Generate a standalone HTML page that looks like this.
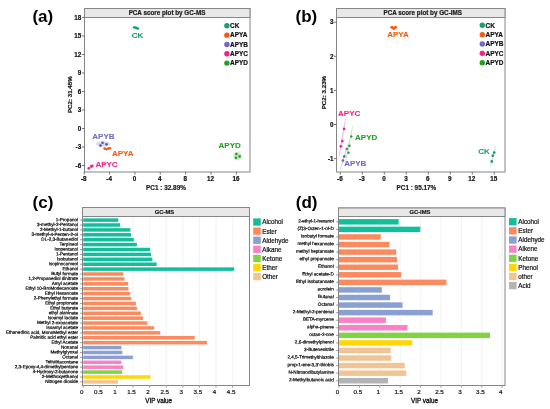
<!DOCTYPE html>
<html><head><meta charset="utf-8"><title>PCA and VIP plots</title>
<style>
html,body{margin:0;padding:0;background:#fff;}
body{width:550px;height:409px;overflow:hidden;}
svg{display:block;font-family:"Liberation Sans", sans-serif;will-change:transform;}
</style></head><body>
<svg width="550" height="409" viewBox="0 0 550 409">
<rect x="0" y="0" width="550" height="409" fill="#fff"/>
<rect x="84.5" y="8.5" width="165.5" height="163.5" fill="#fff" stroke="#868686" stroke-width="1"/>
<rect x="84.5" y="8.5" width="165.5" height="9.0" fill="#e8e8e8" stroke="#868686" stroke-width="1"/>
<text x="167.00" y="15.00" font-size="6.3" font-weight="bold" text-anchor="middle" fill="#1a1a1a" stroke="#1a1a1a" stroke-width="0.2">PCA score plot by GC-MS</text>
<line x1="84.18" y1="172.0" x2="84.18" y2="174.5" stroke="#5a5a5a" stroke-width="0.85"/>
<text x="83.78" y="181.40" font-size="6.3" font-weight="bold" text-anchor="middle" fill="#111" stroke="#111" stroke-width="0.2">-8</text>
<line x1="109.54" y1="172.0" x2="109.54" y2="174.5" stroke="#5a5a5a" stroke-width="0.85"/>
<text x="109.14" y="181.40" font-size="6.3" font-weight="bold" text-anchor="middle" fill="#111" stroke="#111" stroke-width="0.2">-4</text>
<line x1="134.90" y1="172.0" x2="134.90" y2="174.5" stroke="#5a5a5a" stroke-width="0.85"/>
<text x="134.50" y="181.40" font-size="6.3" font-weight="bold" text-anchor="middle" fill="#111" stroke="#111" stroke-width="0.2">0</text>
<line x1="160.26" y1="172.0" x2="160.26" y2="174.5" stroke="#5a5a5a" stroke-width="0.85"/>
<text x="159.86" y="181.40" font-size="6.3" font-weight="bold" text-anchor="middle" fill="#111" stroke="#111" stroke-width="0.2">4</text>
<line x1="185.62" y1="172.0" x2="185.62" y2="174.5" stroke="#5a5a5a" stroke-width="0.85"/>
<text x="185.22" y="181.40" font-size="6.3" font-weight="bold" text-anchor="middle" fill="#111" stroke="#111" stroke-width="0.2">8</text>
<line x1="210.98" y1="172.0" x2="210.98" y2="174.5" stroke="#5a5a5a" stroke-width="0.85"/>
<text x="210.58" y="181.40" font-size="6.3" font-weight="bold" text-anchor="middle" fill="#111" stroke="#111" stroke-width="0.2">12</text>
<line x1="236.34" y1="172.0" x2="236.34" y2="174.5" stroke="#5a5a5a" stroke-width="0.85"/>
<text x="235.94" y="181.40" font-size="6.3" font-weight="bold" text-anchor="middle" fill="#111" stroke="#111" stroke-width="0.2">16</text>
<line x1="82.0" y1="165.52" x2="84.5" y2="165.52" stroke="#5a5a5a" stroke-width="0.85"/>
<text x="81.20" y="167.77" font-size="6.3" font-weight="bold" text-anchor="end" fill="#111" stroke="#111" stroke-width="0.2">-6</text>
<line x1="82.0" y1="147.01" x2="84.5" y2="147.01" stroke="#5a5a5a" stroke-width="0.85"/>
<text x="81.20" y="149.26" font-size="6.3" font-weight="bold" text-anchor="end" fill="#111" stroke="#111" stroke-width="0.2">-3</text>
<line x1="82.0" y1="128.50" x2="84.5" y2="128.50" stroke="#5a5a5a" stroke-width="0.85"/>
<text x="81.20" y="130.75" font-size="6.3" font-weight="bold" text-anchor="end" fill="#111" stroke="#111" stroke-width="0.2">0</text>
<line x1="82.0" y1="109.99" x2="84.5" y2="109.99" stroke="#5a5a5a" stroke-width="0.85"/>
<text x="81.20" y="112.24" font-size="6.3" font-weight="bold" text-anchor="end" fill="#111" stroke="#111" stroke-width="0.2">3</text>
<line x1="82.0" y1="91.48" x2="84.5" y2="91.48" stroke="#5a5a5a" stroke-width="0.85"/>
<text x="81.20" y="93.73" font-size="6.3" font-weight="bold" text-anchor="end" fill="#111" stroke="#111" stroke-width="0.2">6</text>
<line x1="82.0" y1="72.97" x2="84.5" y2="72.97" stroke="#5a5a5a" stroke-width="0.85"/>
<text x="81.20" y="75.22" font-size="6.3" font-weight="bold" text-anchor="end" fill="#111" stroke="#111" stroke-width="0.2">9</text>
<line x1="82.0" y1="54.46" x2="84.5" y2="54.46" stroke="#5a5a5a" stroke-width="0.85"/>
<text x="81.20" y="56.71" font-size="6.3" font-weight="bold" text-anchor="end" fill="#111" stroke="#111" stroke-width="0.2">12</text>
<line x1="82.0" y1="35.95" x2="84.5" y2="35.95" stroke="#5a5a5a" stroke-width="0.85"/>
<text x="81.20" y="38.20" font-size="6.3" font-weight="bold" text-anchor="end" fill="#111" stroke="#111" stroke-width="0.2">15</text>
<line x1="82.0" y1="17.44" x2="84.5" y2="17.44" stroke="#5a5a5a" stroke-width="0.85"/>
<text x="81.20" y="19.69" font-size="6.3" font-weight="bold" text-anchor="end" fill="#111" stroke="#111" stroke-width="0.2">18</text>
<text x="166.00" y="190.40" font-size="6.4" font-weight="bold" text-anchor="middle" fill="#222" stroke="#222" stroke-width="0.2">PC1 : 32.89%</text>
<text x="0" y="0" font-size="6.2" font-weight="bold" text-anchor="middle" fill="#111" stroke="#111" stroke-width="0.2" transform="translate(71.8,94.7) rotate(-90)">PC2: 31.45%</text>
<circle cx="226.9" cy="25.80" r="2.7" fill="#1b9e77"/>
<text x="230.10" y="28.10" font-size="6.45" font-weight="bold" text-anchor="start" fill="#111" stroke="#111" stroke-width="0.2">CK</text>
<circle cx="226.9" cy="35.13" r="2.7" fill="#f55a0c"/>
<text x="230.10" y="37.43" font-size="6.45" font-weight="bold" text-anchor="start" fill="#111" stroke="#111" stroke-width="0.2">APYA</text>
<circle cx="226.9" cy="44.46" r="2.7" fill="#706ac2"/>
<text x="230.10" y="46.76" font-size="6.45" font-weight="bold" text-anchor="start" fill="#111" stroke="#111" stroke-width="0.2">APYB</text>
<circle cx="226.9" cy="53.79" r="2.7" fill="#f22283"/>
<text x="230.10" y="56.09" font-size="6.45" font-weight="bold" text-anchor="start" fill="#111" stroke="#111" stroke-width="0.2">APYC</text>
<circle cx="226.9" cy="63.12" r="2.7" fill="#22a022"/>
<text x="230.10" y="65.42" font-size="6.45" font-weight="bold" text-anchor="start" fill="#111" stroke="#111" stroke-width="0.2">APYD</text>
<circle cx="134.3" cy="27.3" r="1.4" fill="#1b9e77"/>
<circle cx="136.2" cy="27.9" r="1.4" fill="#1b9e77"/>
<circle cx="137.8" cy="28.6" r="1.4" fill="#1b9e77"/>
<text x="137.60" y="37.90" font-size="8" font-weight="bold" text-anchor="middle" fill="#1b9e77" stroke="#1b9e77" stroke-width="0.08">CK</text>
<ellipse cx="103.1" cy="144.0" rx="7.3" ry="2.75" fill="#dcdbf0"/>
<circle cx="102.5" cy="142.8" r="1.4" fill="#625cb8"/>
<circle cx="100.5" cy="145.6" r="1.4" fill="#625cb8"/>
<circle cx="106.4" cy="144.3" r="1.4" fill="#625cb8"/>
<text x="103.40" y="138.70" font-size="8" font-weight="bold" text-anchor="middle" fill="#706ac2" stroke="#706ac2" stroke-width="0.08">APYB</text>
<circle cx="104.6" cy="148.6" r="1.3" fill="#f55a0c"/>
<circle cx="106.6" cy="149.2" r="1.3" fill="#f55a0c"/>
<circle cx="108.3" cy="148.5" r="1.3" fill="#f55a0c"/>
<circle cx="109.9" cy="148.3" r="1.3" fill="#f55a0c"/>
<text x="122.70" y="155.60" font-size="8" font-weight="bold" text-anchor="middle" fill="#f55a0c" stroke="#f55a0c" stroke-width="0.08">APYA</text>
<circle cx="88.8" cy="168.3" r="1.4" fill="#f22283"/>
<circle cx="91.2" cy="166.5" r="1.4" fill="#f22283"/>
<circle cx="92.3" cy="166.0" r="1.4" fill="#f22283"/>
<text x="106.50" y="167.30" font-size="8" font-weight="bold" text-anchor="middle" fill="#f22283" stroke="#f22283" stroke-width="0.08">APYC</text>
<ellipse cx="237.4" cy="156.05" rx="4.35" ry="4.15" fill="#cfeccb"/>
<circle cx="236.4" cy="154.0" r="1.35" fill="#22a022"/>
<circle cx="239.6" cy="156.4" r="1.35" fill="#22a022"/>
<circle cx="236.0" cy="157.8" r="1.35" fill="#22a022"/>
<text x="229.70" y="147.90" font-size="8" font-weight="bold" text-anchor="middle" fill="#22a022" stroke="#22a022" stroke-width="0.08">APYD</text>
<rect x="336.5" y="8.5" width="168.5" height="163.5" fill="#fff" stroke="#868686" stroke-width="1"/>
<rect x="336.5" y="8.5" width="168.5" height="9.0" fill="#e8e8e8" stroke="#868686" stroke-width="1"/>
<text x="422.70" y="15.00" font-size="6.3" font-weight="bold" text-anchor="middle" fill="#1a1a1a" stroke="#1a1a1a" stroke-width="0.2">PCA score plot by GC-IMS</text>
<line x1="340.32" y1="172.0" x2="340.32" y2="174.5" stroke="#5a5a5a" stroke-width="0.85"/>
<text x="339.92" y="181.40" font-size="6.3" font-weight="bold" text-anchor="middle" fill="#111" stroke="#111" stroke-width="0.2">-6</text>
<line x1="362.31" y1="172.0" x2="362.31" y2="174.5" stroke="#5a5a5a" stroke-width="0.85"/>
<text x="361.91" y="181.40" font-size="6.3" font-weight="bold" text-anchor="middle" fill="#111" stroke="#111" stroke-width="0.2">-3</text>
<line x1="384.30" y1="172.0" x2="384.30" y2="174.5" stroke="#5a5a5a" stroke-width="0.85"/>
<text x="383.90" y="181.40" font-size="6.3" font-weight="bold" text-anchor="middle" fill="#111" stroke="#111" stroke-width="0.2">0</text>
<line x1="406.29" y1="172.0" x2="406.29" y2="174.5" stroke="#5a5a5a" stroke-width="0.85"/>
<text x="405.89" y="181.40" font-size="6.3" font-weight="bold" text-anchor="middle" fill="#111" stroke="#111" stroke-width="0.2">3</text>
<line x1="428.28" y1="172.0" x2="428.28" y2="174.5" stroke="#5a5a5a" stroke-width="0.85"/>
<text x="427.88" y="181.40" font-size="6.3" font-weight="bold" text-anchor="middle" fill="#111" stroke="#111" stroke-width="0.2">6</text>
<line x1="450.27" y1="172.0" x2="450.27" y2="174.5" stroke="#5a5a5a" stroke-width="0.85"/>
<text x="449.87" y="181.40" font-size="6.3" font-weight="bold" text-anchor="middle" fill="#111" stroke="#111" stroke-width="0.2">9</text>
<line x1="472.26" y1="172.0" x2="472.26" y2="174.5" stroke="#5a5a5a" stroke-width="0.85"/>
<text x="471.86" y="181.40" font-size="6.3" font-weight="bold" text-anchor="middle" fill="#111" stroke="#111" stroke-width="0.2">12</text>
<line x1="494.25" y1="172.0" x2="494.25" y2="174.5" stroke="#5a5a5a" stroke-width="0.85"/>
<text x="493.85" y="181.40" font-size="6.3" font-weight="bold" text-anchor="middle" fill="#111" stroke="#111" stroke-width="0.2">15</text>
<line x1="334.0" y1="158.60" x2="336.5" y2="158.60" stroke="#5a5a5a" stroke-width="0.85"/>
<text x="333.50" y="160.85" font-size="6.3" font-weight="bold" text-anchor="end" fill="#111" stroke="#111" stroke-width="0.2">-1</text>
<line x1="334.0" y1="124.50" x2="336.5" y2="124.50" stroke="#5a5a5a" stroke-width="0.85"/>
<text x="333.50" y="126.75" font-size="6.3" font-weight="bold" text-anchor="end" fill="#111" stroke="#111" stroke-width="0.2">0</text>
<line x1="334.0" y1="90.40" x2="336.5" y2="90.40" stroke="#5a5a5a" stroke-width="0.85"/>
<text x="333.50" y="92.65" font-size="6.3" font-weight="bold" text-anchor="end" fill="#111" stroke="#111" stroke-width="0.2">1</text>
<line x1="334.0" y1="56.30" x2="336.5" y2="56.30" stroke="#5a5a5a" stroke-width="0.85"/>
<text x="333.50" y="58.55" font-size="6.3" font-weight="bold" text-anchor="end" fill="#111" stroke="#111" stroke-width="0.2">2</text>
<line x1="334.0" y1="22.20" x2="336.5" y2="22.20" stroke="#5a5a5a" stroke-width="0.85"/>
<text x="333.50" y="24.45" font-size="6.3" font-weight="bold" text-anchor="end" fill="#111" stroke="#111" stroke-width="0.2">3</text>
<text x="416.40" y="190.40" font-size="6.4" font-weight="bold" text-anchor="middle" fill="#222" stroke="#222" stroke-width="0.2">PC1 : 95.17%</text>
<text x="0" y="0" font-size="6.2" font-weight="bold" text-anchor="middle" fill="#111" stroke="#111" stroke-width="0.2" transform="translate(325.8,92.6) rotate(-90)">PC2: 3.23%</text>
<circle cx="482.3" cy="25.30" r="2.7" fill="#1b9e77"/>
<text x="485.60" y="27.60" font-size="6.45" font-weight="bold" text-anchor="start" fill="#111" stroke="#111" stroke-width="0.2">CK</text>
<circle cx="482.3" cy="34.65" r="2.7" fill="#f55a0c"/>
<text x="485.60" y="36.95" font-size="6.45" font-weight="bold" text-anchor="start" fill="#111" stroke="#111" stroke-width="0.2">APYA</text>
<circle cx="482.3" cy="44.00" r="2.7" fill="#706ac2"/>
<text x="485.60" y="46.30" font-size="6.45" font-weight="bold" text-anchor="start" fill="#111" stroke="#111" stroke-width="0.2">APYB</text>
<circle cx="482.3" cy="53.35" r="2.7" fill="#f22283"/>
<text x="485.60" y="55.65" font-size="6.45" font-weight="bold" text-anchor="start" fill="#111" stroke="#111" stroke-width="0.2">APYC</text>
<circle cx="482.3" cy="62.70" r="2.7" fill="#22a022"/>
<text x="485.60" y="65.00" font-size="6.45" font-weight="bold" text-anchor="start" fill="#111" stroke="#111" stroke-width="0.2">APYD</text>
<circle cx="391.9" cy="27.3" r="1.55" fill="#f55a0c"/>
<circle cx="395.5" cy="27.2" r="1.55" fill="#f55a0c"/>
<circle cx="393.7" cy="28.5" r="1.55" fill="#f55a0c"/>
<text x="398.00" y="37.40" font-size="8" font-weight="bold" text-anchor="middle" fill="#f55a0c" stroke="#f55a0c" stroke-width="0.08">APYA</text>
<ellipse cx="342.25" cy="137.90" rx="21.82" ry="0.65" fill="#f7bcd9" transform="rotate(99.89 342.25 137.90)"/>
<ellipse cx="349.00" cy="144.85" rx="20.54" ry="0.65" fill="#c6e6c0" transform="rotate(101.23 349.00 144.85)"/>
<ellipse cx="344.35" cy="156.25" rx="14.93" ry="0.65" fill="#d3d1ea" transform="rotate(107.34 344.35 156.25)"/>
<ellipse cx="492.95" cy="156.50" rx="11.39" ry="0.65" fill="#bde5d7" transform="rotate(105.01 492.95 156.50)"/>
<circle cx="344.1" cy="128.9" r="1.35" fill="#f22283"/>
<circle cx="342.3" cy="141.1" r="1.35" fill="#f22283"/>
<circle cx="340.9" cy="146.3" r="1.35" fill="#f22283"/>
<circle cx="351.3" cy="136.5" r="1.2" fill="#22a022"/>
<circle cx="349.5" cy="145.8" r="1.2" fill="#22a022"/>
<circle cx="348.5" cy="152.8" r="1.2" fill="#22a022"/>
<circle cx="346.8" cy="149" r="1.35" fill="#706ac2"/>
<circle cx="344.3" cy="156.4" r="1.35" fill="#706ac2"/>
<circle cx="342.9" cy="160.6" r="1.35" fill="#706ac2"/>
<circle cx="494.2" cy="152.6" r="1.4" fill="#1b9e77"/>
<circle cx="492.8" cy="155.7" r="1.4" fill="#1b9e77"/>
<circle cx="491.8" cy="161.5" r="1.4" fill="#1b9e77"/>
<text x="349.20" y="116.10" font-size="8" font-weight="bold" text-anchor="middle" fill="#f22283" stroke="#f22283" stroke-width="0.08">APYC</text>
<text x="366.20" y="140.20" font-size="8" font-weight="bold" text-anchor="middle" fill="#22a022" stroke="#22a022" stroke-width="0.08">APYD</text>
<text x="355.30" y="166.40" font-size="8" font-weight="bold" text-anchor="middle" fill="#706ac2" stroke="#706ac2" stroke-width="0.08">APYB</text>
<text x="484.00" y="154.40" font-size="8" font-weight="bold" text-anchor="middle" fill="#1b9e77" stroke="#1b9e77" stroke-width="0.08">CK</text>
<rect x="82.5" y="207.5" width="167.0" height="178.0" fill="#fff" stroke="#868686" stroke-width="1"/>
<line x1="99.80" y1="216.5" x2="99.80" y2="385.5" stroke="#efefef" stroke-width="0.8"/>
<line x1="116.40" y1="216.5" x2="116.40" y2="385.5" stroke="#efefef" stroke-width="0.8"/>
<line x1="133.00" y1="216.5" x2="133.00" y2="385.5" stroke="#efefef" stroke-width="0.8"/>
<line x1="149.60" y1="216.5" x2="149.60" y2="385.5" stroke="#efefef" stroke-width="0.8"/>
<line x1="166.20" y1="216.5" x2="166.20" y2="385.5" stroke="#efefef" stroke-width="0.8"/>
<line x1="182.80" y1="216.5" x2="182.80" y2="385.5" stroke="#efefef" stroke-width="0.8"/>
<line x1="199.40" y1="216.5" x2="199.40" y2="385.5" stroke="#efefef" stroke-width="0.8"/>
<line x1="216.00" y1="216.5" x2="216.00" y2="385.5" stroke="#efefef" stroke-width="0.8"/>
<line x1="232.60" y1="216.5" x2="232.60" y2="385.5" stroke="#efefef" stroke-width="0.8"/>
<rect x="82.5" y="207.5" width="167.0" height="9.0" fill="#e8e8e8" stroke="#868686" stroke-width="1"/>
<text x="164.50" y="214.00" font-size="5.8" font-weight="bold" text-anchor="middle" fill="#1a1a1a" stroke="#1a1a1a" stroke-width="0.2">GC-MS</text>
<rect x="83.20" y="218.35" width="35.10" height="3.5" fill="#12be9b"/>
<line x1="80.2" y1="220.10" x2="82.5" y2="220.10" stroke="#6a6a6a" stroke-width="0.7"/>
<text x="0" y="0" font-size="4.56" text-anchor="end" fill="#000" stroke="#000" stroke-width="0.2" transform="translate(78.00,221.24) rotate(0.15)">1-Propanol</text>
<rect x="83.20" y="223.25" width="37.00" height="3.5" fill="#12be9b"/>
<line x1="80.2" y1="225.00" x2="82.5" y2="225.00" stroke="#6a6a6a" stroke-width="0.7"/>
<text x="0" y="0" font-size="4.56" text-anchor="end" fill="#000" stroke="#000" stroke-width="0.2" transform="translate(78.00,226.14) rotate(0.15)">3-methyl-2-Pentanol</text>
<rect x="83.20" y="228.16" width="47.20" height="3.5" fill="#12be9b"/>
<line x1="80.2" y1="229.91" x2="82.5" y2="229.91" stroke="#6a6a6a" stroke-width="0.7"/>
<text x="0" y="0" font-size="4.56" text-anchor="end" fill="#000" stroke="#000" stroke-width="0.2" transform="translate(78.00,231.05) rotate(0.15)">2-Methyl-1-butanol</text>
<rect x="83.20" y="233.06" width="47.80" height="3.5" fill="#12be9b"/>
<line x1="80.2" y1="234.81" x2="82.5" y2="234.81" stroke="#6a6a6a" stroke-width="0.7"/>
<text x="0" y="0" font-size="4.56" text-anchor="end" fill="#000" stroke="#000" stroke-width="0.2" transform="translate(78.00,235.95) rotate(0.15)">3-methyl-4-Penten-2-ol</text>
<rect x="83.20" y="237.96" width="50.60" height="3.5" fill="#12be9b"/>
<line x1="80.2" y1="239.71" x2="82.5" y2="239.71" stroke="#6a6a6a" stroke-width="0.7"/>
<text x="0" y="0" font-size="4.56" text-anchor="end" fill="#000" stroke="#000" stroke-width="0.2" transform="translate(78.00,240.85) rotate(0.15)">DL-2,3-Butanediol</text>
<rect x="83.20" y="242.86" width="53.70" height="3.5" fill="#12be9b"/>
<line x1="80.2" y1="244.61" x2="82.5" y2="244.61" stroke="#6a6a6a" stroke-width="0.7"/>
<text x="0" y="0" font-size="4.56" text-anchor="end" fill="#000" stroke="#000" stroke-width="0.2" transform="translate(78.00,245.76) rotate(0.15)">Terpineol</text>
<rect x="83.20" y="247.77" width="67.00" height="3.5" fill="#12be9b"/>
<line x1="80.2" y1="249.52" x2="82.5" y2="249.52" stroke="#6a6a6a" stroke-width="0.7"/>
<text x="0" y="0" font-size="4.56" text-anchor="end" fill="#000" stroke="#000" stroke-width="0.2" transform="translate(78.00,250.66) rotate(0.15)">Isopentanol</text>
<rect x="83.20" y="252.67" width="67.90" height="3.5" fill="#12be9b"/>
<line x1="80.2" y1="254.42" x2="82.5" y2="254.42" stroke="#6a6a6a" stroke-width="0.7"/>
<text x="0" y="0" font-size="4.56" text-anchor="end" fill="#000" stroke="#000" stroke-width="0.2" transform="translate(78.00,255.56) rotate(0.15)">1-Pentanol</text>
<rect x="83.20" y="257.57" width="69.10" height="3.5" fill="#12be9b"/>
<line x1="80.2" y1="259.32" x2="82.5" y2="259.32" stroke="#6a6a6a" stroke-width="0.7"/>
<text x="0" y="0" font-size="4.56" text-anchor="end" fill="#000" stroke="#000" stroke-width="0.2" transform="translate(78.00,260.47) rotate(0.15)">Isobutanol</text>
<rect x="83.20" y="262.48" width="73.50" height="3.5" fill="#12be9b"/>
<line x1="80.2" y1="264.23" x2="82.5" y2="264.23" stroke="#6a6a6a" stroke-width="0.7"/>
<text x="0" y="0" font-size="4.56" text-anchor="end" fill="#000" stroke="#000" stroke-width="0.2" transform="translate(78.00,265.37) rotate(0.15)">Isopinocarveol</text>
<rect x="83.20" y="267.38" width="151.00" height="3.5" fill="#12be9b"/>
<line x1="80.2" y1="269.13" x2="82.5" y2="269.13" stroke="#6a6a6a" stroke-width="0.7"/>
<text x="0" y="0" font-size="4.56" text-anchor="end" fill="#000" stroke="#000" stroke-width="0.2" transform="translate(78.00,270.27) rotate(0.15)">Ethanol</text>
<rect x="83.20" y="272.28" width="40.10" height="3.5" fill="#fb8a5e"/>
<line x1="80.2" y1="274.03" x2="82.5" y2="274.03" stroke="#6a6a6a" stroke-width="0.7"/>
<text x="0" y="0" font-size="4.56" text-anchor="end" fill="#000" stroke="#000" stroke-width="0.2" transform="translate(78.00,275.17) rotate(0.15)">Butyl formate</text>
<rect x="83.20" y="277.19" width="41.30" height="3.5" fill="#fb8a5e"/>
<line x1="80.2" y1="278.94" x2="82.5" y2="278.94" stroke="#6a6a6a" stroke-width="0.7"/>
<text x="0" y="0" font-size="4.56" text-anchor="end" fill="#000" stroke="#000" stroke-width="0.2" transform="translate(78.00,280.08) rotate(0.15)">1,2-Propanediol dinitrate</text>
<rect x="83.20" y="282.09" width="45.00" height="3.5" fill="#fb8a5e"/>
<line x1="80.2" y1="283.84" x2="82.5" y2="283.84" stroke="#6a6a6a" stroke-width="0.7"/>
<text x="0" y="0" font-size="4.56" text-anchor="end" fill="#000" stroke="#000" stroke-width="0.2" transform="translate(78.00,284.98) rotate(0.15)">Amyl acetate</text>
<rect x="83.20" y="286.99" width="45.30" height="3.5" fill="#fb8a5e"/>
<line x1="80.2" y1="288.74" x2="82.5" y2="288.74" stroke="#6a6a6a" stroke-width="0.7"/>
<text x="0" y="0" font-size="4.56" text-anchor="end" fill="#000" stroke="#000" stroke-width="0.2" transform="translate(78.00,289.88) rotate(0.15)">Ethyl 10-BroModecanoate</text>
<rect x="83.20" y="291.89" width="46.90" height="3.5" fill="#fb8a5e"/>
<line x1="80.2" y1="293.64" x2="82.5" y2="293.64" stroke="#6a6a6a" stroke-width="0.7"/>
<text x="0" y="0" font-size="4.56" text-anchor="end" fill="#000" stroke="#000" stroke-width="0.2" transform="translate(78.00,294.79) rotate(0.15)">Ethyl Hexanoate</text>
<rect x="83.20" y="296.80" width="48.10" height="3.5" fill="#fb8a5e"/>
<line x1="80.2" y1="298.55" x2="82.5" y2="298.55" stroke="#6a6a6a" stroke-width="0.7"/>
<text x="0" y="0" font-size="4.56" text-anchor="end" fill="#000" stroke="#000" stroke-width="0.2" transform="translate(78.00,299.69) rotate(0.15)">2-Phenylethyl formate</text>
<rect x="83.20" y="301.70" width="52.70" height="3.5" fill="#fb8a5e"/>
<line x1="80.2" y1="303.45" x2="82.5" y2="303.45" stroke="#6a6a6a" stroke-width="0.7"/>
<text x="0" y="0" font-size="4.56" text-anchor="end" fill="#000" stroke="#000" stroke-width="0.2" transform="translate(78.00,304.59) rotate(0.15)">Ethyl propionate</text>
<rect x="83.20" y="306.60" width="53.70" height="3.5" fill="#fb8a5e"/>
<line x1="80.2" y1="308.35" x2="82.5" y2="308.35" stroke="#6a6a6a" stroke-width="0.7"/>
<text x="0" y="0" font-size="4.56" text-anchor="end" fill="#000" stroke="#000" stroke-width="0.2" transform="translate(78.00,309.50) rotate(0.15)">Ethyl butyrate</text>
<rect x="83.20" y="311.51" width="57.70" height="3.5" fill="#fb8a5e"/>
<line x1="80.2" y1="313.26" x2="82.5" y2="313.26" stroke="#6a6a6a" stroke-width="0.7"/>
<text x="0" y="0" font-size="4.56" text-anchor="end" fill="#000" stroke="#000" stroke-width="0.2" transform="translate(78.00,314.40) rotate(0.15)">ethyl alaninate</text>
<rect x="83.20" y="316.41" width="59.90" height="3.5" fill="#fb8a5e"/>
<line x1="80.2" y1="318.16" x2="82.5" y2="318.16" stroke="#6a6a6a" stroke-width="0.7"/>
<text x="0" y="0" font-size="4.56" text-anchor="end" fill="#000" stroke="#000" stroke-width="0.2" transform="translate(78.00,319.30) rotate(0.15)">Isoamyl lactate</text>
<rect x="83.20" y="321.31" width="64.20" height="3.5" fill="#fb8a5e"/>
<line x1="80.2" y1="323.06" x2="82.5" y2="323.06" stroke="#6a6a6a" stroke-width="0.7"/>
<text x="0" y="0" font-size="4.56" text-anchor="end" fill="#000" stroke="#000" stroke-width="0.2" transform="translate(78.00,324.20) rotate(0.15)">Methyl 2-oxoacetate</text>
<rect x="83.20" y="326.22" width="71.00" height="3.5" fill="#fb8a5e"/>
<line x1="80.2" y1="327.97" x2="82.5" y2="327.97" stroke="#6a6a6a" stroke-width="0.7"/>
<text x="0" y="0" font-size="4.56" text-anchor="end" fill="#000" stroke="#000" stroke-width="0.2" transform="translate(78.00,329.11) rotate(0.15)">Isoamyl acetate</text>
<rect x="83.20" y="331.12" width="77.10" height="3.5" fill="#fb8a5e"/>
<line x1="80.2" y1="332.87" x2="82.5" y2="332.87" stroke="#6a6a6a" stroke-width="0.7"/>
<text x="0" y="0" font-size="4.56" text-anchor="end" fill="#000" stroke="#000" stroke-width="0.2" transform="translate(78.00,334.01) rotate(0.15)">Ethanedioic acid, MonoMethyl ester</text>
<rect x="83.20" y="336.02" width="111.50" height="3.5" fill="#fb8a5e"/>
<line x1="80.2" y1="337.77" x2="82.5" y2="337.77" stroke="#6a6a6a" stroke-width="0.7"/>
<text x="0" y="0" font-size="4.56" text-anchor="end" fill="#000" stroke="#000" stroke-width="0.2" transform="translate(78.00,338.91) rotate(0.15)">Palmitic acid ethyl ester</text>
<rect x="83.20" y="340.92" width="123.80" height="3.5" fill="#fb8a5e"/>
<line x1="80.2" y1="342.67" x2="82.5" y2="342.67" stroke="#6a6a6a" stroke-width="0.7"/>
<text x="0" y="0" font-size="4.56" text-anchor="end" fill="#000" stroke="#000" stroke-width="0.2" transform="translate(78.00,343.82) rotate(0.15)">Ethyl Acetate</text>
<rect x="83.20" y="345.83" width="38.20" height="3.5" fill="#8aa0d0"/>
<line x1="80.2" y1="347.58" x2="82.5" y2="347.58" stroke="#6a6a6a" stroke-width="0.7"/>
<text x="0" y="0" font-size="4.56" text-anchor="end" fill="#000" stroke="#000" stroke-width="0.2" transform="translate(78.00,348.72) rotate(0.15)">Nonanal</text>
<rect x="83.20" y="350.73" width="39.10" height="3.5" fill="#8aa0d0"/>
<line x1="80.2" y1="352.48" x2="82.5" y2="352.48" stroke="#6a6a6a" stroke-width="0.7"/>
<text x="0" y="0" font-size="4.56" text-anchor="end" fill="#000" stroke="#000" stroke-width="0.2" transform="translate(78.00,353.62) rotate(0.15)">Methylglyoxal</text>
<rect x="83.20" y="355.63" width="49.60" height="3.5" fill="#8aa0d0"/>
<line x1="80.2" y1="357.38" x2="82.5" y2="357.38" stroke="#6a6a6a" stroke-width="0.7"/>
<text x="0" y="0" font-size="4.56" text-anchor="end" fill="#000" stroke="#000" stroke-width="0.2" transform="translate(78.00,358.53) rotate(0.15)">Octanal</text>
<rect x="83.20" y="360.54" width="38.20" height="3.5" fill="#fb80c6"/>
<line x1="80.2" y1="362.29" x2="82.5" y2="362.29" stroke="#6a6a6a" stroke-width="0.7"/>
<text x="0" y="0" font-size="4.56" text-anchor="end" fill="#000" stroke="#000" stroke-width="0.2" transform="translate(78.00,363.43) rotate(0.15)">Tetratriacontane</text>
<rect x="83.20" y="365.44" width="40.10" height="3.5" fill="#fb80c6"/>
<line x1="80.2" y1="367.19" x2="82.5" y2="367.19" stroke="#6a6a6a" stroke-width="0.7"/>
<text x="0" y="0" font-size="4.56" text-anchor="end" fill="#000" stroke="#000" stroke-width="0.2" transform="translate(78.00,368.33) rotate(0.15)">2,3-Epoxy-4,4-dimethylpentane</text>
<rect x="83.20" y="370.34" width="39.10" height="3.5" fill="#80d444"/>
<line x1="80.2" y1="372.09" x2="82.5" y2="372.09" stroke="#6a6a6a" stroke-width="0.7"/>
<text x="0" y="0" font-size="4.56" text-anchor="end" fill="#000" stroke="#000" stroke-width="0.2" transform="translate(78.00,373.23) rotate(0.15)">4-Hydroxy-2-butanone</text>
<rect x="83.20" y="375.25" width="67.30" height="3.5" fill="#ffd608"/>
<line x1="80.2" y1="377.00" x2="82.5" y2="377.00" stroke="#6a6a6a" stroke-width="0.7"/>
<text x="0" y="0" font-size="4.56" text-anchor="end" fill="#000" stroke="#000" stroke-width="0.2" transform="translate(78.00,378.14) rotate(0.15)">2-Methoxyethanol</text>
<rect x="83.20" y="380.15" width="34.80" height="3.5" fill="#f0c494"/>
<line x1="80.2" y1="381.90" x2="82.5" y2="381.90" stroke="#6a6a6a" stroke-width="0.7"/>
<text x="0" y="0" font-size="4.56" text-anchor="end" fill="#000" stroke="#000" stroke-width="0.2" transform="translate(78.00,383.04) rotate(0.15)">Nitrogen dioxide</text>
<line x1="83.20" y1="385.5" x2="83.20" y2="387.7" stroke="#6a6a6a" stroke-width="0.7"/>
<text x="81.70" y="394.00" font-size="6.2" text-anchor="middle" fill="#111" stroke="#111" stroke-width="0.2">0</text>
<line x1="99.80" y1="385.5" x2="99.80" y2="387.7" stroke="#6a6a6a" stroke-width="0.7"/>
<text x="98.30" y="394.00" font-size="6.2" text-anchor="middle" fill="#111" stroke="#111" stroke-width="0.2">0.5</text>
<line x1="116.40" y1="385.5" x2="116.40" y2="387.7" stroke="#6a6a6a" stroke-width="0.7"/>
<text x="114.90" y="394.00" font-size="6.2" text-anchor="middle" fill="#111" stroke="#111" stroke-width="0.2">1</text>
<line x1="133.00" y1="385.5" x2="133.00" y2="387.7" stroke="#6a6a6a" stroke-width="0.7"/>
<text x="131.50" y="394.00" font-size="6.2" text-anchor="middle" fill="#111" stroke="#111" stroke-width="0.2">1.5</text>
<line x1="149.60" y1="385.5" x2="149.60" y2="387.7" stroke="#6a6a6a" stroke-width="0.7"/>
<text x="148.10" y="394.00" font-size="6.2" text-anchor="middle" fill="#111" stroke="#111" stroke-width="0.2">2</text>
<line x1="166.20" y1="385.5" x2="166.20" y2="387.7" stroke="#6a6a6a" stroke-width="0.7"/>
<text x="164.70" y="394.00" font-size="6.2" text-anchor="middle" fill="#111" stroke="#111" stroke-width="0.2">2.5</text>
<line x1="182.80" y1="385.5" x2="182.80" y2="387.7" stroke="#6a6a6a" stroke-width="0.7"/>
<text x="181.30" y="394.00" font-size="6.2" text-anchor="middle" fill="#111" stroke="#111" stroke-width="0.2">3</text>
<line x1="199.40" y1="385.5" x2="199.40" y2="387.7" stroke="#6a6a6a" stroke-width="0.7"/>
<text x="197.90" y="394.00" font-size="6.2" text-anchor="middle" fill="#111" stroke="#111" stroke-width="0.2">3.5</text>
<line x1="216.00" y1="385.5" x2="216.00" y2="387.7" stroke="#6a6a6a" stroke-width="0.7"/>
<text x="214.50" y="394.00" font-size="6.2" text-anchor="middle" fill="#111" stroke="#111" stroke-width="0.2">4</text>
<line x1="232.60" y1="385.5" x2="232.60" y2="387.7" stroke="#6a6a6a" stroke-width="0.7"/>
<text x="231.10" y="394.00" font-size="6.2" text-anchor="middle" fill="#111" stroke="#111" stroke-width="0.2">4.5</text>
<text x="158.70" y="402.80" font-size="6.3" text-anchor="middle" fill="#111" stroke="#111" stroke-width="0.3">VIP value</text>
<rect x="253.2" y="218.40" width="7.6" height="7.3" fill="#12be9b"/>
<text x="262.20" y="224.40" font-size="6.3" text-anchor="start" fill="#111" stroke="#111" stroke-width="0.2">Alcohol</text>
<rect x="253.2" y="227.50" width="7.6" height="7.3" fill="#fb8a5e"/>
<text x="262.20" y="233.50" font-size="6.3" text-anchor="start" fill="#111" stroke="#111" stroke-width="0.2">Ester</text>
<rect x="253.2" y="236.60" width="7.6" height="7.3" fill="#8aa0d0"/>
<text x="262.20" y="242.60" font-size="6.3" text-anchor="start" fill="#111" stroke="#111" stroke-width="0.2">Aldehyde</text>
<rect x="253.2" y="245.70" width="7.6" height="7.3" fill="#fb80c6"/>
<text x="262.20" y="251.70" font-size="6.3" text-anchor="start" fill="#111" stroke="#111" stroke-width="0.2">Alkane</text>
<rect x="253.2" y="254.80" width="7.6" height="7.3" fill="#80d444"/>
<text x="262.20" y="260.80" font-size="6.3" text-anchor="start" fill="#111" stroke="#111" stroke-width="0.2">Ketone</text>
<rect x="253.2" y="263.90" width="7.6" height="7.3" fill="#ffd608"/>
<text x="262.20" y="269.90" font-size="6.3" text-anchor="start" fill="#111" stroke="#111" stroke-width="0.2">Ether</text>
<rect x="253.2" y="273.00" width="7.6" height="7.3" fill="#f0c494"/>
<text x="262.20" y="279.00" font-size="6.3" text-anchor="start" fill="#111" stroke="#111" stroke-width="0.2">Other</text>
<rect x="338.5" y="208.0" width="166.5" height="177.5" fill="#fff" stroke="#868686" stroke-width="1"/>
<line x1="359.40" y1="216.5" x2="359.40" y2="385.5" stroke="#efefef" stroke-width="0.8"/>
<line x1="379.80" y1="216.5" x2="379.80" y2="385.5" stroke="#efefef" stroke-width="0.8"/>
<line x1="400.20" y1="216.5" x2="400.20" y2="385.5" stroke="#efefef" stroke-width="0.8"/>
<line x1="420.60" y1="216.5" x2="420.60" y2="385.5" stroke="#efefef" stroke-width="0.8"/>
<line x1="441.00" y1="216.5" x2="441.00" y2="385.5" stroke="#efefef" stroke-width="0.8"/>
<line x1="461.40" y1="216.5" x2="461.40" y2="385.5" stroke="#efefef" stroke-width="0.8"/>
<line x1="481.80" y1="216.5" x2="481.80" y2="385.5" stroke="#efefef" stroke-width="0.8"/>
<line x1="502.20" y1="216.5" x2="502.20" y2="385.5" stroke="#efefef" stroke-width="0.8"/>
<rect x="338.5" y="208.0" width="166.5" height="8.5" fill="#e8e8e8" stroke="#868686" stroke-width="1"/>
<text x="419.90" y="214.25" font-size="5.8" font-weight="bold" text-anchor="middle" fill="#1a1a1a" stroke="#1a1a1a" stroke-width="0.2">GC-IMS</text>
<rect x="339.00" y="219.10" width="59.60" height="5.45" fill="#12be9b"/>
<line x1="336.2" y1="221.82" x2="338.5" y2="221.82" stroke="#6a6a6a" stroke-width="0.7"/>
<text x="0" y="0" font-size="4.6" text-anchor="end" fill="#000" stroke="#000" stroke-width="0.2" transform="translate(333.70,222.48) rotate(0.15)">2-ethyl-1-hexanol</text>
<rect x="339.00" y="226.67" width="81.30" height="5.45" fill="#12be9b"/>
<line x1="336.2" y1="229.39" x2="338.5" y2="229.39" stroke="#6a6a6a" stroke-width="0.7"/>
<text x="0" y="0" font-size="4.6" text-anchor="end" fill="#000" stroke="#000" stroke-width="0.2" transform="translate(333.70,230.05) rotate(0.15)">(Z)3-Octen-1-ol-D</text>
<rect x="339.00" y="234.23" width="41.80" height="5.45" fill="#fb8a5e"/>
<line x1="336.2" y1="236.96" x2="338.5" y2="236.96" stroke="#6a6a6a" stroke-width="0.7"/>
<text x="0" y="0" font-size="4.6" text-anchor="end" fill="#000" stroke="#000" stroke-width="0.2" transform="translate(333.70,237.61) rotate(0.15)">Isobutyl formate</text>
<rect x="339.00" y="241.80" width="50.40" height="5.45" fill="#fb8a5e"/>
<line x1="336.2" y1="244.53" x2="338.5" y2="244.53" stroke="#6a6a6a" stroke-width="0.7"/>
<text x="0" y="0" font-size="4.6" text-anchor="end" fill="#000" stroke="#000" stroke-width="0.2" transform="translate(333.70,245.18) rotate(0.15)">methyl hexanoate</text>
<rect x="339.00" y="249.37" width="57.10" height="5.45" fill="#fb8a5e"/>
<line x1="336.2" y1="252.09" x2="338.5" y2="252.09" stroke="#6a6a6a" stroke-width="0.7"/>
<text x="0" y="0" font-size="4.6" text-anchor="end" fill="#000" stroke="#000" stroke-width="0.2" transform="translate(333.70,252.75) rotate(0.15)">methyl heptanoate</text>
<rect x="339.00" y="256.94" width="58.00" height="5.45" fill="#fb8a5e"/>
<line x1="336.2" y1="259.66" x2="338.5" y2="259.66" stroke="#6a6a6a" stroke-width="0.7"/>
<text x="0" y="0" font-size="4.6" text-anchor="end" fill="#000" stroke="#000" stroke-width="0.2" transform="translate(333.70,260.32) rotate(0.15)">ethyl propanoate</text>
<rect x="339.00" y="264.50" width="59.00" height="5.45" fill="#fb8a5e"/>
<line x1="336.2" y1="267.23" x2="338.5" y2="267.23" stroke="#6a6a6a" stroke-width="0.7"/>
<text x="0" y="0" font-size="4.6" text-anchor="end" fill="#000" stroke="#000" stroke-width="0.2" transform="translate(333.70,267.88) rotate(0.15)">Ethanol</text>
<rect x="339.00" y="272.07" width="62.20" height="5.45" fill="#fb8a5e"/>
<line x1="336.2" y1="274.79" x2="338.5" y2="274.79" stroke="#6a6a6a" stroke-width="0.7"/>
<text x="0" y="0" font-size="4.6" text-anchor="end" fill="#000" stroke="#000" stroke-width="0.2" transform="translate(333.70,275.45) rotate(0.15)">Ethyl acetate-D</text>
<rect x="339.00" y="279.64" width="107.40" height="5.45" fill="#fb8a5e"/>
<line x1="336.2" y1="282.36" x2="338.5" y2="282.36" stroke="#6a6a6a" stroke-width="0.7"/>
<text x="0" y="0" font-size="4.6" text-anchor="end" fill="#000" stroke="#000" stroke-width="0.2" transform="translate(333.70,283.02) rotate(0.15)">Ethyl isobutanoate</text>
<rect x="339.00" y="287.20" width="42.80" height="5.45" fill="#8aa0d0"/>
<line x1="336.2" y1="289.93" x2="338.5" y2="289.93" stroke="#6a6a6a" stroke-width="0.7"/>
<text x="0" y="0" font-size="4.6" text-anchor="end" fill="#000" stroke="#000" stroke-width="0.2" transform="translate(333.70,290.58) rotate(0.15)">acrolein</text>
<rect x="339.00" y="294.77" width="51.00" height="5.45" fill="#8aa0d0"/>
<line x1="336.2" y1="297.50" x2="338.5" y2="297.50" stroke="#6a6a6a" stroke-width="0.7"/>
<text x="0" y="0" font-size="4.6" text-anchor="end" fill="#000" stroke="#000" stroke-width="0.2" transform="translate(333.70,298.15) rotate(0.15)">Butanal</text>
<rect x="339.00" y="302.34" width="63.50" height="5.45" fill="#8aa0d0"/>
<line x1="336.2" y1="305.06" x2="338.5" y2="305.06" stroke="#6a6a6a" stroke-width="0.7"/>
<text x="0" y="0" font-size="4.6" text-anchor="end" fill="#000" stroke="#000" stroke-width="0.2" transform="translate(333.70,305.72) rotate(0.15)">Octanal</text>
<rect x="339.00" y="309.90" width="93.70" height="5.45" fill="#8aa0d0"/>
<line x1="336.2" y1="312.63" x2="338.5" y2="312.63" stroke="#6a6a6a" stroke-width="0.7"/>
<text x="0" y="0" font-size="4.6" text-anchor="end" fill="#000" stroke="#000" stroke-width="0.2" transform="translate(333.70,313.29) rotate(0.15)">2-Methyl-2-pentenal</text>
<rect x="339.00" y="317.47" width="46.90" height="5.45" fill="#fb80c6"/>
<line x1="336.2" y1="320.20" x2="338.5" y2="320.20" stroke="#6a6a6a" stroke-width="0.7"/>
<text x="0" y="0" font-size="4.6" text-anchor="end" fill="#000" stroke="#000" stroke-width="0.2" transform="translate(333.70,320.85) rotate(0.15)">BETA-myrcene</text>
<rect x="339.00" y="325.04" width="68.50" height="5.45" fill="#fb80c6"/>
<line x1="336.2" y1="327.76" x2="338.5" y2="327.76" stroke="#6a6a6a" stroke-width="0.7"/>
<text x="0" y="0" font-size="4.6" text-anchor="end" fill="#000" stroke="#000" stroke-width="0.2" transform="translate(333.70,328.42) rotate(0.15)">alpha-pinene</text>
<rect x="339.00" y="332.61" width="151.00" height="5.45" fill="#80d444"/>
<line x1="336.2" y1="335.33" x2="338.5" y2="335.33" stroke="#6a6a6a" stroke-width="0.7"/>
<text x="0" y="0" font-size="4.6" text-anchor="end" fill="#000" stroke="#000" stroke-width="0.2" transform="translate(333.70,335.99) rotate(0.15)">octan-2-one</text>
<rect x="339.00" y="340.17" width="73.30" height="5.45" fill="#ffd608"/>
<line x1="336.2" y1="342.90" x2="338.5" y2="342.90" stroke="#6a6a6a" stroke-width="0.7"/>
<text x="0" y="0" font-size="4.6" text-anchor="end" fill="#000" stroke="#000" stroke-width="0.2" transform="translate(333.70,343.55) rotate(0.15)">2,6-dimethylphenol</text>
<rect x="339.00" y="347.74" width="51.70" height="5.45" fill="#f0c494"/>
<line x1="336.2" y1="350.46" x2="338.5" y2="350.46" stroke="#6a6a6a" stroke-width="0.7"/>
<text x="0" y="0" font-size="4.6" text-anchor="end" fill="#000" stroke="#000" stroke-width="0.2" transform="translate(333.70,351.12) rotate(0.15)">3-Butenenitrile</text>
<rect x="339.00" y="355.31" width="52.30" height="5.45" fill="#f0c494"/>
<line x1="336.2" y1="358.03" x2="338.5" y2="358.03" stroke="#6a6a6a" stroke-width="0.7"/>
<text x="0" y="0" font-size="4.6" text-anchor="end" fill="#000" stroke="#000" stroke-width="0.2" transform="translate(333.70,358.69) rotate(0.15)">2,4,5-Trimethylthiazole</text>
<rect x="339.00" y="362.87" width="65.70" height="5.45" fill="#f0c494"/>
<line x1="336.2" y1="365.60" x2="338.5" y2="365.60" stroke="#6a6a6a" stroke-width="0.7"/>
<text x="0" y="0" font-size="4.6" text-anchor="end" fill="#000" stroke="#000" stroke-width="0.2" transform="translate(333.70,366.25) rotate(0.15)">prop-1-ene-3,3'-thiobis</text>
<rect x="339.00" y="370.44" width="67.30" height="5.45" fill="#f0c494"/>
<line x1="336.2" y1="373.17" x2="338.5" y2="373.17" stroke="#6a6a6a" stroke-width="0.7"/>
<text x="0" y="0" font-size="4.6" text-anchor="end" fill="#000" stroke="#000" stroke-width="0.2" transform="translate(333.70,373.82) rotate(0.15)">N-Nitrosodibutylamine</text>
<rect x="339.00" y="378.01" width="49.10" height="5.45" fill="#b3b3b3"/>
<line x1="336.2" y1="380.73" x2="338.5" y2="380.73" stroke="#6a6a6a" stroke-width="0.7"/>
<text x="0" y="0" font-size="4.6" text-anchor="end" fill="#000" stroke="#000" stroke-width="0.2" transform="translate(333.70,381.39) rotate(0.15)">2-Methylbutanoic acid</text>
<line x1="339.00" y1="385.5" x2="339.00" y2="387.7" stroke="#6a6a6a" stroke-width="0.7"/>
<text x="337.50" y="394.00" font-size="6.2" text-anchor="middle" fill="#111" stroke="#111" stroke-width="0.2">0</text>
<line x1="359.40" y1="385.5" x2="359.40" y2="387.7" stroke="#6a6a6a" stroke-width="0.7"/>
<text x="357.90" y="394.00" font-size="6.2" text-anchor="middle" fill="#111" stroke="#111" stroke-width="0.2">0.5</text>
<line x1="379.80" y1="385.5" x2="379.80" y2="387.7" stroke="#6a6a6a" stroke-width="0.7"/>
<text x="378.30" y="394.00" font-size="6.2" text-anchor="middle" fill="#111" stroke="#111" stroke-width="0.2">1</text>
<line x1="400.20" y1="385.5" x2="400.20" y2="387.7" stroke="#6a6a6a" stroke-width="0.7"/>
<text x="398.70" y="394.00" font-size="6.2" text-anchor="middle" fill="#111" stroke="#111" stroke-width="0.2">1.5</text>
<line x1="420.60" y1="385.5" x2="420.60" y2="387.7" stroke="#6a6a6a" stroke-width="0.7"/>
<text x="419.10" y="394.00" font-size="6.2" text-anchor="middle" fill="#111" stroke="#111" stroke-width="0.2">2</text>
<line x1="441.00" y1="385.5" x2="441.00" y2="387.7" stroke="#6a6a6a" stroke-width="0.7"/>
<text x="439.50" y="394.00" font-size="6.2" text-anchor="middle" fill="#111" stroke="#111" stroke-width="0.2">2.5</text>
<line x1="461.40" y1="385.5" x2="461.40" y2="387.7" stroke="#6a6a6a" stroke-width="0.7"/>
<text x="459.90" y="394.00" font-size="6.2" text-anchor="middle" fill="#111" stroke="#111" stroke-width="0.2">3</text>
<line x1="481.80" y1="385.5" x2="481.80" y2="387.7" stroke="#6a6a6a" stroke-width="0.7"/>
<text x="480.30" y="394.00" font-size="6.2" text-anchor="middle" fill="#111" stroke="#111" stroke-width="0.2">3.5</text>
<line x1="502.20" y1="385.5" x2="502.20" y2="387.7" stroke="#6a6a6a" stroke-width="0.7"/>
<text x="500.70" y="394.00" font-size="6.2" text-anchor="middle" fill="#111" stroke="#111" stroke-width="0.2">4</text>
<text x="424.50" y="402.80" font-size="6.3" text-anchor="middle" fill="#111" stroke="#111" stroke-width="0.3">VIP value</text>
<rect x="509.0" y="218.10" width="7.6" height="7.3" fill="#12be9b"/>
<text x="518.30" y="224.10" font-size="6.3" text-anchor="start" fill="#111" stroke="#111" stroke-width="0.2">Alcohol</text>
<rect x="509.0" y="227.23" width="7.6" height="7.3" fill="#fb8a5e"/>
<text x="518.30" y="233.23" font-size="6.3" text-anchor="start" fill="#111" stroke="#111" stroke-width="0.2">Ester</text>
<rect x="509.0" y="236.36" width="7.6" height="7.3" fill="#8aa0d0"/>
<text x="518.30" y="242.36" font-size="6.3" text-anchor="start" fill="#111" stroke="#111" stroke-width="0.2">Aldehyde</text>
<rect x="509.0" y="245.49" width="7.6" height="7.3" fill="#fb80c6"/>
<text x="518.30" y="251.49" font-size="6.3" text-anchor="start" fill="#111" stroke="#111" stroke-width="0.2">Alkene</text>
<rect x="509.0" y="254.62" width="7.6" height="7.3" fill="#80d444"/>
<text x="518.30" y="260.62" font-size="6.3" text-anchor="start" fill="#111" stroke="#111" stroke-width="0.2">Ketone</text>
<rect x="509.0" y="263.75" width="7.6" height="7.3" fill="#ffd608"/>
<text x="518.30" y="269.75" font-size="6.3" text-anchor="start" fill="#111" stroke="#111" stroke-width="0.2">Phenol</text>
<rect x="509.0" y="272.88" width="7.6" height="7.3" fill="#f0c494"/>
<text x="518.30" y="278.88" font-size="6.3" text-anchor="start" fill="#111" stroke="#111" stroke-width="0.2">other</text>
<rect x="509.0" y="282.01" width="7.6" height="7.3" fill="#b3b3b3"/>
<text x="518.30" y="288.01" font-size="6.3" text-anchor="start" fill="#111" stroke="#111" stroke-width="0.2">Acid</text>
<text x="42.80" y="22.10" font-size="17" font-weight="bold" text-anchor="middle" fill="#000" >(a)</text>
<text x="306.40" y="21.80" font-size="17" font-weight="bold" text-anchor="middle" fill="#000" >(b)</text>
<text x="43.00" y="208.00" font-size="17" font-weight="bold" text-anchor="middle" fill="#000" >(c)</text>
<text x="306.60" y="208.40" font-size="17" font-weight="bold" text-anchor="middle" fill="#000" >(d)</text>
</svg>
</body></html>
